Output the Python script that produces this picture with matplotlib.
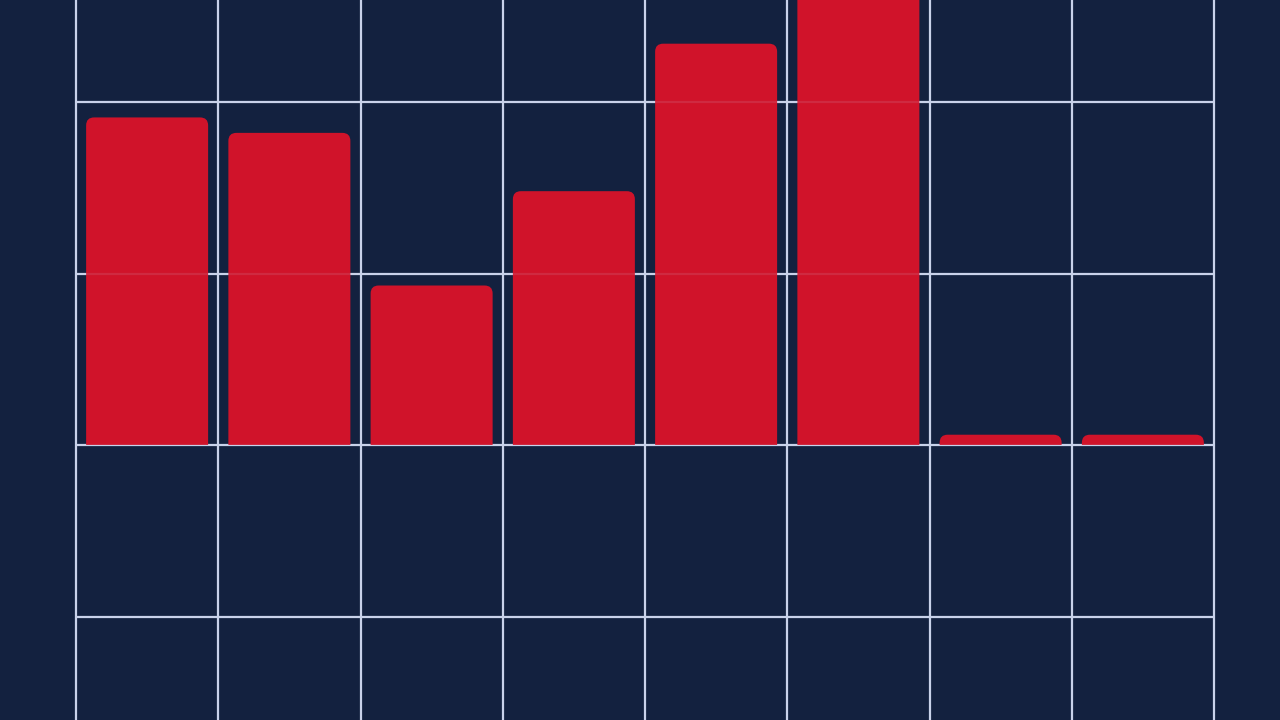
import matplotlib
matplotlib.use("Agg")
import matplotlib.pyplot as plt
from matplotlib.patches import FancyBboxPatch, Rectangle

# bar heights (one grid step = 100)
categories = ["A", "B", "C", "D", "E", "F", "G", "H"]
values = [191, 182, 93, 148, 234, 285, 6, 6]
grid_y = [-100, 0, 100, 200]

BG = "#13213f"
BAR = "#d0132a"
GRID = "#c9d2ea"

fig = plt.figure(figsize=(12.8, 7.2), dpi=100, facecolor=BG)
ax = fig.add_axes([0, 0, 1, 1], facecolor=BG)
ax.set_xlim(-76 / 142.25, (1280 - 76) / 142.25)
ax.set_ylim(-275 / 1.715, 445 / 1.715)
ax.axis("off")

# pixel -> data scale for round corners
px_x = 1 / 142.25
px_y = 1 / 1.715
width = 122 * px_x
drop = 20  # bars start below the baseline and get clipped there
clip = Rectangle((-1, 0), 10, 1000, transform=ax.transData)
for i, v in enumerate(values):
    x0 = i + 0.5 - width / 2
    r = 8 * px_x
    bar = FancyBboxPatch((x0, -drop), width, v + drop,
                         boxstyle=f"round,pad=0,rounding_size={r}",
                         mutation_aspect=px_y / px_x,
                         fc=BAR, ec="none", zorder=2)
    ax.add_patch(bar)
    bar.set_clip_path(clip)

for k in range(len(categories) + 1):
    ax.axvline(k, color=GRID, lw=1.6, zorder=1)
for gy in grid_y:
    ax.hlines(gy, 0, len(categories), color=GRID, lw=1.6, zorder=1)
    ax.hlines(gy, 0, len(categories), color=GRID, lw=1.6, alpha=0.12, zorder=3)

fig.savefig("out.png", dpi=100, facecolor=BG)
